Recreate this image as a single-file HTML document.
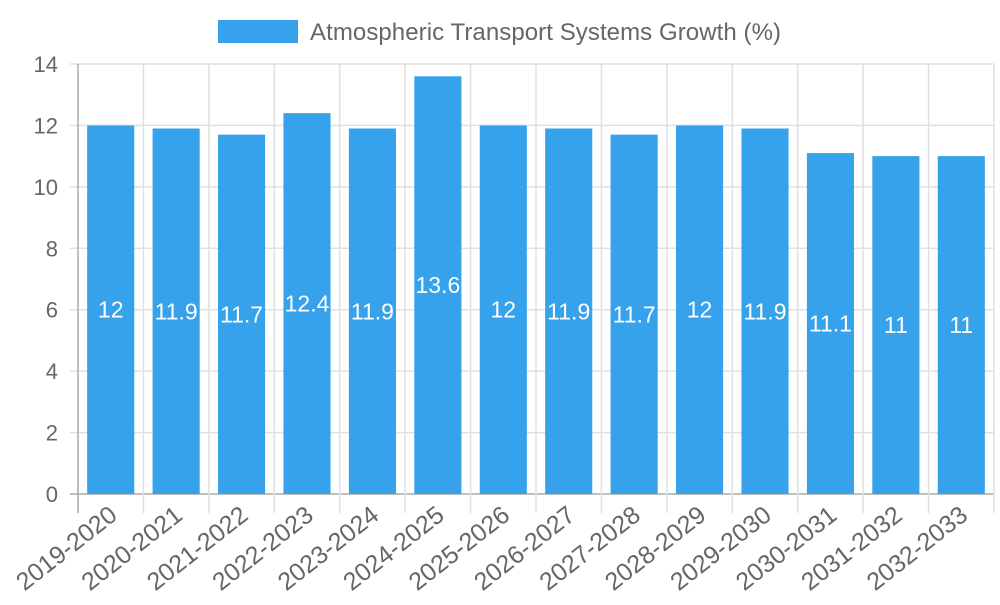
<!DOCTYPE html>
<html><head><meta charset="utf-8"><style>
body{margin:0;background:#fff}
svg text{font-family:"Liberation Sans",sans-serif}
</style></head><body>
<svg id="c" width="1000" height="600"></svg>
<script>
const categories=["2019-2020","2020-2021","2021-2022","2022-2023","2023-2024","2024-2025","2025-2026","2026-2027","2027-2028","2028-2029","2029-2030","2030-2031","2031-2032","2032-2033"];
const values=[12,11.9,11.7,12.4,11.9,13.6,12,11.9,11.7,12,11.9,11.1,11,11];
const yTicks=[0,2,4,6,8,10,12,14];
const NS="http://www.w3.org/2000/svg";
const svg=document.getElementById('c');
const L=78,R=994,T=64,B=494,yMax=14;
const bw=(R-L)/categories.length;
const y=v=>B-(v/yMax)*(B-T);
const x=i=>L+bw*i;
function mk(t,a,txt){const e=document.createElementNS(NS,t);for(const k in a)e.setAttribute(k,a[k]);if(txt!==undefined)e.textContent=txt;svg.appendChild(e);return e;}
let e=mk('rect',{x:218,y:20,width:80,height:23,fill:'#36a2eb'});


e=mk('text',{x:310,y:40,'font-size':24,fill:'#666',textLength:471},'Atmospheric Transport Systems Growth (%)');


yTicks.forEach(t=>{
 e=mk('line',{x1:70,x2:R,y1:y(t),y2:y(t),stroke:t===0?'#aaa':'#e0e0e0','stroke-width':1.5});
 
 
 e=mk('text',{x:58,y:y(t)+8,'font-size':22,fill:'#666','text-anchor':'end'},String(t));
 
 
});
for(let i=0;i<=categories.length;i++){
 e=mk('line',{x1:x(i),x2:x(i),y1:T,y2:B+19,stroke:i===0?'#aaa':'#e0e0e0','stroke-width':1.5});
 
 
}
categories.forEach((c,i)=>{
 const cx=x(i)+bw/2, w=bw*0.72;
 e=mk('rect',{x:cx-w/2,y:y(values[i]),width:w,height:B-y(values[i]),fill:'#36a2eb'});
 
 
 e=mk('text',{x:cx,y:(y(values[i])+B)/2+8,'font-size':23,fill:'#fff','text-anchor':'middle'},String(values[i]));
 
 
 e=mk('text',{x:cx+8,y:B+24,'font-size':25,fill:'#666','text-anchor':'end',transform:`rotate(-38 ${cx+8} ${B+24})`},c);
 
 
});
</script>
</body></html>
